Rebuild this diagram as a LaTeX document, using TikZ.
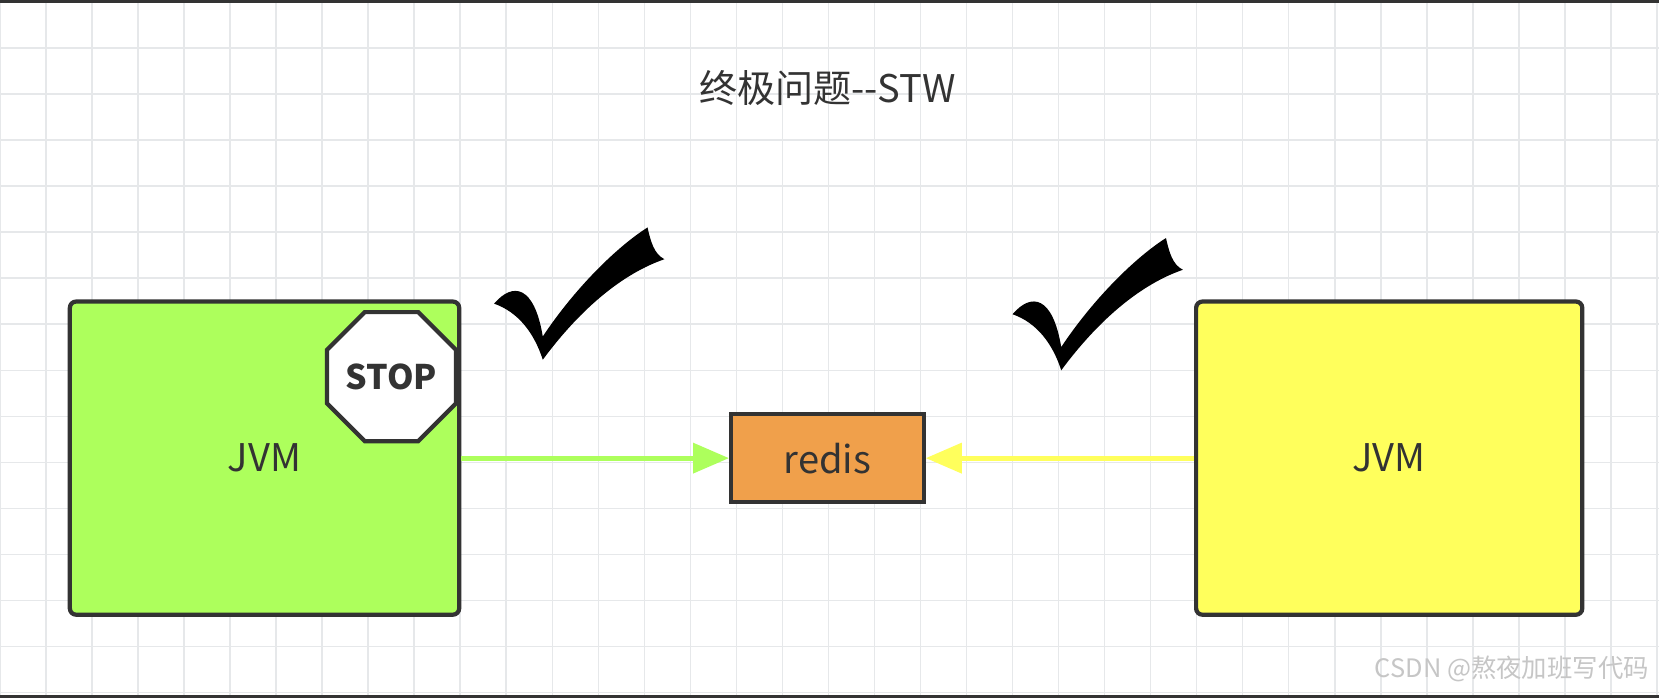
\documentclass[tikz,border=0pt]{standalone}
\usepackage{fontspec}
\setmainfont{Noto Sans CJK SC}
\usetikzlibrary{arrows.meta,shapes.geometric}
\definecolor{jgreen}{HTML}{ADFF5C}
\definecolor{jyellow}{HTML}{FFFF5C}
\definecolor{rorange}{HTML}{F0A04B}
\definecolor{edge}{HTML}{333333}
\definecolor{gridc}{HTML}{E6E8EA}
\begin{document}
\begin{tikzpicture}[x=1pt,y=-1pt,
  box/.style={draw=edge,line width=4pt,rounded corners=6pt,inner sep=0pt},
  lbl/.style={font=\fontsize{36}{42}\selectfont,text=edge},
  conn/.style={line width=4.5pt,-{Triangle[length=34pt,width=28pt]}}]
\useasboundingbox (0,0) rectangle (1568,660);
\fill[white] (0,0) rectangle (1568,660);
\foreach \i in {0,...,36} \draw[gridc,line width=1.5pt] (43.5*\i,0) -- (43.5*\i,660);
\foreach \j in {0,...,15} \draw[gridc,line width=1.5pt] (0,2+43.5*\j) -- (1568,2+43.5*\j);
\draw[edge,line width=3pt] (0,1) -- (1568,1);
\draw[edge,line width=3pt] (0,658) -- (1568,658);
\node[lbl] (title) at (782,83) {终极问题{-}{-}STW};
\node[box,fill=jgreen,minimum width=368pt,minimum height=296pt] (jl) at (250,433) {};
\node[lbl] at (250,433) {JVM};
\node[box,fill=jyellow,minimum width=365pt,minimum height=296pt] (jr) at (1313,433) {};
\node[lbl] at (1313,433) {JVM};
\node[box,rounded corners=0pt,fill=rorange,minimum width=182pt,minimum height=83pt,lbl] (redis) at (782,433) {redis};
\node[regular polygon,regular polygon sides=8,shape border rotate=0,draw=edge,line width=4pt,fill=white,minimum size=106pt,inner sep=0pt,font=\bfseries\fontsize{32}{38}\selectfont,text=edge] (stop) at (370,356) {STOP};
\draw[conn,draw=jgreen,fill=jgreen] (jl.east|-redis.west) -- (redis.west);
\draw[conn,draw=jyellow,fill=jyellow] (jr.west) -- (redis.east);
\foreach \dx/\dy in {0/0,490/10} {
\fill[black,shift={(\dx,\dy)}] (467,287) .. controls (485,266) and (505,270) .. (513,318)
  .. controls (545,270) and (585,232) .. (612,215)
  .. controls (615,228) and (618,240) .. (628,245)
  .. controls (590,258) and (550,290) .. (513,340)
  .. controls (505,315) and (490,295) .. (467,287) -- cycle;
}
\node[text=gray!45,font=\fontsize{24}{28}\selectfont,anchor=east] (wm) at (1562,632) {CSDN @熬夜加班写代码};
\end{tikzpicture}
\end{document}
